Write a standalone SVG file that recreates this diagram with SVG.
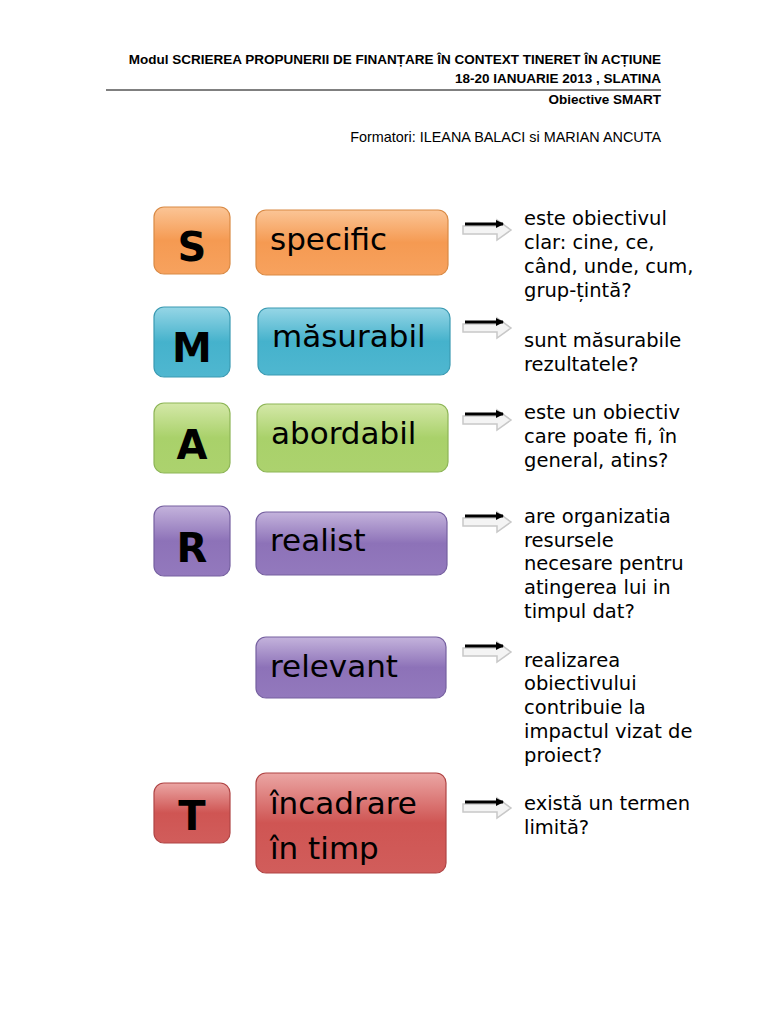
<svg xmlns="http://www.w3.org/2000/svg" width="768" height="1024" viewBox="0 0 768 1024">
<defs>
<linearGradient id="go" x1="0" y1="0" x2="0" y2="1"><stop offset="0" stop-color="#fbc596"/><stop offset="0.5" stop-color="#f59a52"/><stop offset="1" stop-color="#f7a25e"/></linearGradient>
<linearGradient id="gb" x1="0" y1="0" x2="0" y2="1"><stop offset="0" stop-color="#96d6e6"/><stop offset="0.5" stop-color="#45b2cc"/><stop offset="1" stop-color="#4fb7d0"/></linearGradient>
<linearGradient id="gg" x1="0" y1="0" x2="0" y2="1"><stop offset="0" stop-color="#d4e8a8"/><stop offset="0.5" stop-color="#a9d16a"/><stop offset="1" stop-color="#acd26e"/></linearGradient>
<linearGradient id="gp" x1="0" y1="0" x2="0" y2="1"><stop offset="0" stop-color="#c4b3dc"/><stop offset="0.5" stop-color="#8d72b8"/><stop offset="1" stop-color="#9379bd"/></linearGradient>
<linearGradient id="gr" x1="0" y1="0" x2="0" y2="1"><stop offset="0" stop-color="#eba6a4"/><stop offset="0.5" stop-color="#cf5553"/><stop offset="1" stop-color="#d15d5b"/></linearGradient>
<marker id="ah" markerWidth="8" markerHeight="8" refX="7" refY="4" orient="auto" markerUnits="userSpaceOnUse"><path d="M0,0 L8,4 L0,8 Z" fill="#000"/></marker>
<g id="arw"><path d="M0,-4 L34,-4 L34,-10 L48,0 L34,10 L34,4 L0,4 Z" fill="#f4f4f4" stroke="#c8c8c8" stroke-width="1.5"/><line x1="2" y1="-6" x2="40" y2="-6" stroke="#000" stroke-width="3" marker-end="url(#ah)"/></g>
</defs>
<style>
.h{font-family:"Liberation Sans",Arial,sans-serif;font-size:13.5px;font-weight:bold;text-anchor:end}
.hn{font-family:"Liberation Sans",Arial,sans-serif;font-size:14.4px;text-anchor:end}
.L{font-family:"DejaVu Sans",Verdana,sans-serif;font-size:40px;font-weight:bold;text-anchor:middle}
.w{font-family:"DejaVu Sans",Verdana,sans-serif;font-size:31px}
.t{font-family:"DejaVu Sans",Verdana,sans-serif;font-size:19.5px}
.box{stroke-width:1.2}
</style>
<rect width="768" height="1024" fill="#fff"/>
<g id="header">
<text class="h" x="661" y="64">Modul SCRIEREA PROPUNERII DE FINANȚARE ÎN CONTEXT TINERET ÎN ACȚIUNE</text>
<text class="h" x="661" y="83">18-20 IANUARIE 2013 , SLATINA</text>
<line x1="106" y1="90" x2="661" y2="90" stroke="#000" stroke-width="1"/>
<text class="h" x="661" y="104">Obiective SMART</text>
<text class="hn" x="661" y="142">Formatori: ILEANA BALACI si MARIAN ANCUTA</text>
</g>
<g id="S"><rect class="box" x="154" y="207" width="76" height="67" rx="10" fill="url(#go)" stroke="#d98a45"/><text class="L" x="192" y="261">S</text></g>
<g id="specific"><rect class="box" x="256" y="210" width="192" height="65" rx="10" fill="url(#go)" stroke="#d98a45"/><text class="w" x="270" y="250">specific</text></g>
<g id="M"><rect class="box" x="154" y="307" width="76" height="70" rx="10" fill="url(#gb)" stroke="#3a9ab2"/><text class="L" x="192" y="362">M</text></g>
<g id="masurabil"><rect class="box" x="258" y="308" width="192" height="67" rx="10" fill="url(#gb)" stroke="#3a9ab2"/><text class="w" x="272" y="347">măsurabil</text></g>
<g id="A"><rect class="box" x="154" y="403" width="76" height="70" rx="10" fill="url(#gg)" stroke="#8db556"/><text class="L" x="192" y="459">A</text></g>
<g id="abordabil"><rect class="box" x="257" y="404" width="191" height="68" rx="10" fill="url(#gg)" stroke="#8db556"/><text class="w" x="271" y="444">abordabil</text></g>
<g id="R"><rect class="box" x="154" y="506" width="76" height="70" rx="10" fill="url(#gp)" stroke="#7660a0"/><text class="L" x="192" y="562">R</text></g>
<g id="realist"><rect class="box" x="256" y="512" width="191" height="63" rx="10" fill="url(#gp)" stroke="#7660a0"/><text class="w" x="270" y="551">realist</text></g>
<g id="relevant"><rect class="box" x="256" y="637" width="190" height="61" rx="10" fill="url(#gp)" stroke="#7660a0"/><text class="w" x="270" y="677">relevant</text></g>
<g id="T"><rect class="box" x="154" y="783" width="76" height="60" rx="10" fill="url(#gr)" stroke="#b04545"/><text class="L" x="192" y="830">T</text></g>
<g id="incadrare"><rect class="box" x="256" y="773" width="190" height="100" rx="10" fill="url(#gr)" stroke="#b04545"/><text class="w" x="270" y="814">încadrare</text><text class="w" x="270" y="859">în timp</text></g>
<g id="connectors">
<use href="#arw" x="463" y="230"/>
<use href="#arw" x="463" y="328"/>
<use href="#arw" x="463" y="420"/>
<use href="#arw" x="463" y="522"/>
<use href="#arw" x="463" y="652"/>
<use href="#arw" x="463" y="808"/>
</g>
<g id="texts">
<text class="t" x="524" y="225">este obiectivul</text><text class="t" x="524" y="249">clar: cine, ce,</text><text class="t" x="524" y="273">când, unde, cum,</text><text class="t" x="524" y="297">grup-țintă?</text>
<text class="t" x="524" y="347">sunt măsurabile</text><text class="t" x="524" y="371">rezultatele?</text>
<text class="t" x="524" y="419">este un obiectiv</text><text class="t" x="524" y="443">care poate fi, în</text><text class="t" x="524" y="467">general, atins?</text>
<text class="t" x="524" y="523">are organizatia</text><text class="t" x="524" y="547">resursele</text><text class="t" x="524" y="570">necesare pentru</text><text class="t" x="524" y="594">atingerea lui in</text><text class="t" x="524" y="618">timpul dat?</text>
<text class="t" x="524" y="667">realizarea</text><text class="t" x="524" y="690">obiectivului</text><text class="t" x="524" y="714">contribuie la</text><text class="t" x="524" y="738">impactul vizat de</text><text class="t" x="524" y="762">proiect?</text>
<text class="t" x="524" y="810">există un termen</text><text class="t" x="524" y="834">limită?</text>
</g>
</svg>
